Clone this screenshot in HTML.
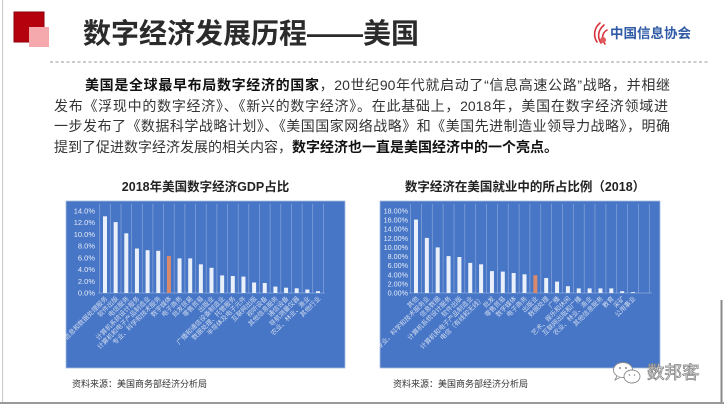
<!DOCTYPE html>
<html><head><meta charset="utf-8">
<style>
html,body{margin:0;padding:0;background:#fff;}
body{width:724px;height:406px;position:relative;overflow:hidden;font-family:"Liberation Sans","Noto Sans CJK SC",sans-serif;}
.abs{position:absolute;white-space:nowrap;}
.title{left:83px;top:14px;font-size:28px;line-height:40px;font-weight:700;color:#2b2b2b;letter-spacing:0px;}
.logo{left:610px;top:25px;font-size:13.5px;line-height:18px;font-weight:700;color:#2f5aa5;}
.ln{position:absolute;font-size:14px;line-height:20.6px;color:#333;white-space:nowrap;}
.j{text-align:justify;text-align-last:justify;white-space:normal;}
.ln b{color:#111;font-weight:700;}
.ct{position:absolute;top:179px;font-size:12.5px;line-height:16px;font-weight:700;color:#222;text-align:center;white-space:nowrap;}
.src{position:absolute;top:378px;font-size:9px;line-height:12px;color:#333;white-space:nowrap;}
</style></head>
<body>
<svg class="abs" style="left:0;top:0" width="724" height="406" viewBox="0 0 724 406">
  <!-- frame lines -->
  <rect x="2" y="0" width="1.2" height="403" fill="#cfcfcf"/>
  <rect x="720.5" y="300" width="2" height="103" fill="#8a8a8a"/>
  <rect x="0" y="402" width="724" height="2" fill="#9a9a9a"/>
  <!-- red squares -->
  <rect x="14" y="12" width="30" height="30" fill="#b5000e" stroke="#8a0008" stroke-width="1"/>
  <rect x="29" y="27" width="20" height="20" fill="#f5a9ad"/>
  <!-- dashed line -->
  <line x1="50" y1="62" x2="710" y2="62" stroke="#9a9a9a" stroke-width="1" stroke-dasharray="3,2.5"/>
  <!-- logo icon -->
  <g fill="none" stroke="#d8323a" stroke-width="1.6" stroke-linecap="round">
    <path d="M600 23 C594 28 593 36 597 42"/>
    <path d="M604 25 C598 30 597 37 601 43"/>
    <path d="M607 30 C602 33 601 39 605 44"/>
  </g>
  <circle cx="603" cy="40" r="3" fill="#e05a5f"/>

  <!-- Chart 1 box -->
  <rect x="66" y="201" width="279" height="167" fill="#4876c6" stroke="#a9bbdc" stroke-width="0.8"/>
  <g stroke="#ffffff" stroke-opacity="0.35" stroke-width="0.7">
    <line x1="99.7" y1="204" x2="99.7" y2="293"/><line x1="110.3" y1="204" x2="110.3" y2="293"/><line x1="121" y1="204" x2="121" y2="293"/><line x1="131.6" y1="204" x2="131.6" y2="293"/><line x1="142.3" y1="204" x2="142.3" y2="293"/><line x1="152.9" y1="204" x2="152.9" y2="293"/><line x1="163.6" y1="204" x2="163.6" y2="293"/><line x1="174.2" y1="204" x2="174.2" y2="293"/><line x1="184.9" y1="204" x2="184.9" y2="293"/><line x1="195.6" y1="204" x2="195.6" y2="293"/><line x1="206.2" y1="204" x2="206.2" y2="293"/><line x1="216.9" y1="204" x2="216.9" y2="293"/><line x1="227.5" y1="204" x2="227.5" y2="293"/><line x1="238.2" y1="204" x2="238.2" y2="293"/><line x1="248.8" y1="204" x2="248.8" y2="293"/><line x1="259.5" y1="204" x2="259.5" y2="293"/><line x1="270.1" y1="204" x2="270.1" y2="293"/><line x1="280.8" y1="204" x2="280.8" y2="293"/><line x1="291.4" y1="204" x2="291.4" y2="293"/><line x1="302.1" y1="204" x2="302.1" y2="293"/><line x1="312.7" y1="204" x2="312.7" y2="293"/><line x1="323.4" y1="204" x2="323.4" y2="293"/>
    <line x1="98" y1="293" x2="325" y2="293"/>
  </g>
  <g font-size="7.5" fill="#e4ebf8" text-anchor="end" font-family="Liberation Sans, sans-serif">
    <text x="95" y="213.5">14.0%</text><text x="95" y="225.2">12.0%</text><text x="95" y="236.9">10.0%</text><text x="95" y="248.6">8.0%</text><text x="95" y="260.4">6.0%</text><text x="95" y="272.1">4.0%</text><text x="95" y="283.8">2.0%</text><text x="95" y="295.5">0.0%</text>
  </g>
  <g fill="#eaf0f9">
    <rect x="103" y="216.3" width="4" height="76.7"/><rect x="113.65" y="222.1" width="4" height="70.9"/><rect x="124.3" y="233.3" width="4" height="59.7"/><rect x="134.95" y="248.5" width="4" height="44.5"/><rect x="145.6" y="250.2" width="4" height="42.8"/><rect x="156.25" y="250.8" width="4" height="42.2"/><rect x="166.9" y="256.1" width="4" height="36.9" fill="#d98a6c"/><rect x="177.55" y="258.4" width="4" height="34.6"/><rect x="188.2" y="258.4" width="4" height="34.6"/><rect x="198.85" y="264.3" width="4" height="28.7"/><rect x="209.5" y="267.8" width="4" height="25.2"/><rect x="220.15" y="275.4" width="4" height="17.6"/><rect x="230.8" y="276" width="4" height="17"/><rect x="241.45" y="276.6" width="4" height="16.4"/><rect x="252.1" y="282.5" width="4" height="10.5"/><rect x="262.75" y="283" width="4" height="10"/><rect x="273.4" y="286.6" width="4" height="6.4"/><rect x="284.05" y="287.7" width="4" height="5.3"/><rect x="294.7" y="288.3" width="4" height="4.7"/><rect x="305.35" y="289.5" width="4" height="3.5"/><rect x="316" y="291.2" width="4" height="1.8"/>
  </g>
  <g font-size="6.5" fill="#ffffff" fill-opacity="0.72" text-anchor="end" font-family="Noto Sans CJK SC, sans-serif">
    <text transform="translate(108,299) rotate(-45)">信息和数据处理服务</text>
    <text transform="translate(118.6,299) rotate(-45)">软件出版</text>
    <text transform="translate(129.3,299) rotate(-45)">电信服务</text>
    <text transform="translate(139.9,299) rotate(-45)">计算机系统设计服务</text>
    <text transform="translate(150.6,299) rotate(-45)">计算机和电子产品制造业</text>
    <text transform="translate(161.2,299) rotate(-45)">专业、科学和技术服务</text>
    <text transform="translate(171.9,299) rotate(-45)">数字媒体</text>
    <text transform="translate(182.5,299) rotate(-45)">电子商务</text>
    <text transform="translate(193.2,299) rotate(-45)">批发贸易</text>
    <text transform="translate(203.8,299) rotate(-45)">零售贸易</text>
    <text transform="translate(214.5,299) rotate(-45)">出版业</text>
    <text transform="translate(225.1,299) rotate(-45)">广播和通信设备制造业</text>
    <text transform="translate(235.8,299) rotate(-45)">数据处理、托管服务</text>
    <text transform="translate(246.4,299) rotate(-45)">半导体及电子元件</text>
    <text transform="translate(257.1,299) rotate(-45)">互联网出版</text>
    <text transform="translate(267.7,299) rotate(-45)">视听设备</text>
    <text transform="translate(278.4,299) rotate(-45)">其他信息服务</text>
    <text transform="translate(289,299) rotate(-45)">通信设备</text>
    <text transform="translate(299.7,299) rotate(-45)">导航测量仪器</text>
    <text transform="translate(310.3,299) rotate(-45)">农业、林业、渔业</text>
    <text transform="translate(321,299) rotate(-45)">其他行业</text>
  </g>

  <!-- Chart 2 box -->
  <rect x="380" y="201" width="280" height="167" fill="#4876c6" stroke="#a9bbdc" stroke-width="0.8"/>
  <g stroke="#ffffff" stroke-opacity="0.35" stroke-width="0.7">
    <line x1="410.6" y1="204" x2="410.6" y2="293"/><line x1="421.4" y1="204" x2="421.4" y2="293"/><line x1="432.3" y1="204" x2="432.3" y2="293"/><line x1="443.1" y1="204" x2="443.1" y2="293"/><line x1="454" y1="204" x2="454" y2="293"/><line x1="464.8" y1="204" x2="464.8" y2="293"/><line x1="475.7" y1="204" x2="475.7" y2="293"/><line x1="486.5" y1="204" x2="486.5" y2="293"/><line x1="497.4" y1="204" x2="497.4" y2="293"/><line x1="508.2" y1="204" x2="508.2" y2="293"/><line x1="519.1" y1="204" x2="519.1" y2="293"/><line x1="529.9" y1="204" x2="529.9" y2="293"/><line x1="540.8" y1="204" x2="540.8" y2="293"/><line x1="551.6" y1="204" x2="551.6" y2="293"/><line x1="562.5" y1="204" x2="562.5" y2="293"/><line x1="573.3" y1="204" x2="573.3" y2="293"/><line x1="584.2" y1="204" x2="584.2" y2="293"/><line x1="595" y1="204" x2="595" y2="293"/><line x1="605.9" y1="204" x2="605.9" y2="293"/><line x1="616.7" y1="204" x2="616.7" y2="293"/><line x1="627.6" y1="204" x2="627.6" y2="293"/><line x1="638.4" y1="204" x2="638.4" y2="293"/><line x1="649.3" y1="204" x2="649.3" y2="293"/>
    <line x1="409" y1="293" x2="652" y2="293"/>
  </g>
  <g font-size="7.2" fill="#e4ebf8" text-anchor="end" font-family="Liberation Sans, sans-serif">
    <text x="408" y="213.5">18.00%</text><text x="408" y="222.6">16.00%</text><text x="408" y="231.7">14.00%</text><text x="408" y="240.8">12.00%</text><text x="408" y="249.9">10.00%</text><text x="408" y="259">8.00%</text><text x="408" y="268.2">6.00%</text><text x="408" y="277.3">4.00%</text><text x="408" y="286.4">2.00%</text><text x="408" y="295.5">0.00%</text>
  </g>
  <g fill="#eaf0f9">
    <rect x="414" y="219.6" width="4" height="73.4"/><rect x="424.85" y="237.9" width="4" height="55.1"/><rect x="435.7" y="247.4" width="4" height="45.6"/><rect x="446.55" y="256.1" width="4" height="36.9"/><rect x="457.4" y="257" width="4" height="36"/><rect x="468.25" y="262.9" width="4" height="30.1"/><rect x="479.1" y="264.3" width="4" height="28.7"/><rect x="489.95" y="271.1" width="4" height="21.9"/><rect x="500.8" y="271.6" width="4" height="21.4"/><rect x="511.65" y="273" width="4" height="20"/><rect x="522.5" y="274.3" width="4" height="18.7"/><rect x="533.35" y="275.2" width="4" height="17.8" fill="#d98a6c"/><rect x="544.2" y="278" width="4" height="15"/><rect x="555.05" y="281.6" width="4" height="11.4"/><rect x="565.9" y="286.2" width="4" height="6.8"/><rect x="576.75" y="288.4" width="4" height="4.6"/><rect x="587.6" y="288.4" width="4" height="4.6"/><rect x="598.45" y="288.4" width="4" height="4.6"/><rect x="609.3" y="288.4" width="4" height="4.6"/><rect x="620.15" y="291.2" width="4" height="1.8"/><rect x="631" y="292.1" width="4" height="0.9"/>
  </g>
  <g font-size="6.5" fill="#ffffff" fill-opacity="0.72" text-anchor="end" font-family="Noto Sans CJK SC, sans-serif">
    <text transform="translate(419,299) rotate(-45)">其他</text>
    <text transform="translate(429.9,299) rotate(-45)">专业、科学和技术服务业</text>
    <text transform="translate(440.7,299) rotate(-45)">信息数据</text>
    <text transform="translate(451.6,299) rotate(-45)">计算机系统设计服务</text>
    <text transform="translate(462.4,299) rotate(-45)">软件出版</text>
    <text transform="translate(473.3,299) rotate(-45)">计算机和电子产品制造业</text>
    <text transform="translate(484.1,299) rotate(-45)">电信（有线和无线）</text>
    <text transform="translate(495,299) rotate(-45)">批发</text>
    <text transform="translate(505.8,299) rotate(-45)">零售贸易</text>
    <text transform="translate(516.7,299) rotate(-45)">数字媒体</text>
    <text transform="translate(527.5,299) rotate(-45)">电子商务</text>
    <text transform="translate(538.4,299) rotate(-45)">出版业</text>
    <text transform="translate(549.2,299) rotate(-45)">数据处理</text>
    <text transform="translate(560.1,299) rotate(-45)">广播</text>
    <text transform="translate(570.9,299) rotate(-45)">艺术、娱乐和休闲</text>
    <text transform="translate(581.8,299) rotate(-45)">互联网出版和广播</text>
    <text transform="translate(592.6,299) rotate(-45)">农业、林业、渔业</text>
    <text transform="translate(603.5,299) rotate(-45)">其他信息服务</text>
    <text transform="translate(614.3,299) rotate(-45)">教育</text>
    <text transform="translate(625.2,299) rotate(-45)">采矿</text>
    <text transform="translate(636,299) rotate(-45)">公用事业</text>
  </g>

  <!-- watermark -->
  <g stroke="#8a8a8a" stroke-width="0.9" fill="#ffffff">
    <ellipse cx="623" cy="370" rx="9.5" ry="7.5"/>
    <path d="M617 376 l-2 4 l5 -2.5" />
    <ellipse cx="632" cy="376.5" rx="8" ry="6.5"/>
  </g>
  <g fill="#8a8a8a">
    <circle cx="620" cy="368" r="1"/><circle cx="626" cy="368" r="1"/>
    <circle cx="629.5" cy="375" r="0.8"/><circle cx="634.5" cy="375" r="0.8"/>
  </g>
  <text x="647" y="378.5" font-size="17.5" fill="#ffffff" stroke="#858585" stroke-width="0.8" font-family="Noto Sans CJK SC, sans-serif">数邦客</text>
</svg>

<div class="abs title">数字经济发展历程——美国</div>
<div class="abs logo">中国信息协会</div>

<div class="ln j" style="left:85px;top:75px;width:585px;"><b>美国是全球最早布局数字经济的国家</b>，20世纪90年代就启动了“信息高速公路”战略，并相继</div>
<div class="ln j" style="left:54px;top:95.6px;width:614px;">发布《浮现中的数字经济》、《新兴的数字经济》。在此基础上，2018年，美国在数字经济领域进</div>
<div class="ln j" style="left:54px;top:116.2px;width:616px;">一步发布了《数据科学战略计划》、《美国国家网络战略》和《美国先进制造业领导力战略》，明确</div>
<div class="ln" style="left:54px;top:136.8px;">提到了促进数字经济发展的相关内容，<b>数字经济也一直是美国经济中的一个亮点。</b></div>

<div class="ct" style="left:66px;width:279px;">2018年美国数字经济GDP占比</div>
<div class="ct" style="left:385px;width:280px;">数字经济在美国就业中的所占比例（2018）</div>

<div class="src" style="left:72px;">资料来源：美国商务部经济分析局</div>
<div class="src" style="left:393px;">资料来源：美国商务部经济分析局</div>
</body></html>
